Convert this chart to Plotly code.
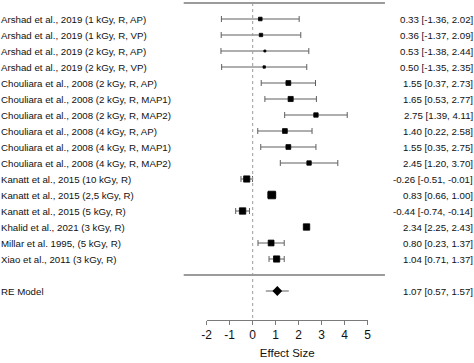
import plotly.graph_objects as go

# ---------------- data ----------------
studies = [
    "Arshad et al., 2019 (1 kGy, R, AP)",
    "Arshad et al., 2019 (1 kGy, R, VP)",
    "Arshad et al., 2019 (2 kGy, R, AP)",
    "Arshad et al., 2019 (2 kGy, R, VP)",
    "Chouliara et al., 2008 (2 kGy, R, AP)",
    "Chouliara et al., 2008 (2 kGy, R, MAP1)",
    "Chouliara et al., 2008 (2 kGy, R, MAP2)",
    "Chouliara et al., 2008 (4 kGy, R, AP)",
    "Chouliara et al., 2008 (4 kGy, R, MAP1)",
    "Chouliara et al., 2008 (4 kGy, R, MAP2)",
    "Kanatt et al., 2015 (10 kGy, R)",
    "Kanatt et al., 2015 (2,5 kGy, R)",
    "Kanatt et al., 2015 (5 kGy, R)",
    "Khalid et al., 2021 (3 kGy, R)",
    "Millar et al. 1995, (5 kGy, R)",
    "Xiao et al., 2011 (3 kGy, R)",
]
estimates = [0.33, 0.36, 0.53, 0.50, 1.55, 1.65, 2.75, 1.40, 1.55, 2.45,
             -0.26, 0.83, -0.44, 2.34, 0.80, 1.04]
ci_lower = [-1.36, -1.37, -1.38, -1.35, 0.37, 0.53, 1.39, 0.22, 0.35, 1.20,
            -0.51, 0.66, -0.74, 2.25, 0.23, 0.71]
ci_upper = [2.02, 2.09, 2.44, 2.35, 2.73, 2.77, 4.11, 2.58, 2.75, 3.70,
            -0.01, 1.00, -0.14, 2.43, 1.37, 1.37]

re_label = "RE Model"
re_estimate = 1.07
re_lower = 0.57
re_upper = 1.57

axis_ticks = [-2, -1, 0, 1, 2, 3, 4, 5]
axis_title = "Effect Size"

# ---------------- styles / geometry ----------------
square_sizes = [3.6, 3.4, 2, 2.4, 4.8, 5.1, 4.4, 4.8, 4.8, 4.4,
                6.2, 7.6, 6.4, 6.4, 5.8, 6.2]

W, H = 474, 363
zero_px = 252.7
px_per_unit = 23.0
xmin = -zero_px / px_per_unit
xmax = (W - zero_px) / px_per_unit

row_px_first = 259.0     # pixel y of row 1
row_step = 16.0
ymax = 1 + row_px_first / row_step
ymin = 1 - (H - row_px_first) / row_step

n = len(studies)
rows = list(range(n, 0, -1))
re_row = -1
top_row = n + 1
sep_row = 0
axis_row = -2.8
line_x_from, line_x_to = -3.0, 5.75

FONT = "Liberation Sans, Arial, sans-serif"
GREY = "#7a7a7a"
CI_GREY = "#5f5f5f"
TXT = "#111111"
LABEL_SIZE = 9.7

fig = go.Figure()

# horizontal separator lines
fig.add_trace(go.Scatter(
    x=[line_x_from, line_x_to, None, line_x_from, line_x_to],
    y=[top_row, top_row, None, sep_row, sep_row],
    mode="lines", line=dict(color=GREY, width=1.3),
    hoverinfo="skip"))

# reference line at 0 (on the effect-size axis)
fig.add_trace(go.Scatter(
    x=[0, 0], y=[top_row, axis_row], xaxis="x2", yaxis="y",
    mode="lines", line=dict(color="#9a9a9a", width=1, dash="dot"),
    hoverinfo="skip"))

# study CIs (drawn first, beneath the squares)
fig.add_trace(go.Scatter(
    x=estimates, y=rows, mode="markers",
    marker=dict(size=1, color="rgba(0,0,0,0)"),
    error_x=dict(type="data", symmetric=False,
                 array=[u - e for u, e in zip(ci_upper, estimates)],
                 arrayminus=[e - l for e, l in zip(estimates, ci_lower)],
                 color=CI_GREY, thickness=1, width=3),
    cliponaxis=False, hoverinfo="skip"))

# study estimates
fig.add_trace(go.Scatter(
    x=estimates, y=rows, mode="markers",
    marker=dict(symbol="square", size=square_sizes, color="#000000",
                opacity=1, line=dict(width=0.8, color="#000000")),
    cliponaxis=False, hoverinfo="skip"))

# RE model CI and estimate
fig.add_trace(go.Scatter(
    x=[re_estimate], y=[re_row], mode="markers",
    marker=dict(size=1, color="rgba(0,0,0,0)"),
    error_x=dict(type="data", symmetric=False,
                 array=[re_upper - re_estimate],
                 arrayminus=[re_estimate - re_lower],
                 color=CI_GREY, thickness=1, width=0),
    cliponaxis=False, hoverinfo="skip"))
fig.add_trace(go.Scatter(
    x=[re_estimate], y=[re_row], mode="markers",
    marker=dict(symbol="diamond", size=7.5, color="black", line=dict(width=0)),
    cliponaxis=False, hoverinfo="skip"))

# text columns (annotations placed on the row axis)
right_text = [f"{e:.2f} [{l:.2f}, {u:.2f}]" for e, l, u in zip(estimates, ci_lower, ci_upper)]
right_text.append(f"{re_estimate:.2f} [{re_lower:.2f}, {re_upper:.2f}]")
annotations = []
for label, value_txt, r in zip(studies + [re_label], right_text, rows + [re_row]):
    annotations.append(dict(
        text=label, xref="paper", x=0.5 / W, xanchor="left", yref="y", y=r,
        yanchor="middle", showarrow=False, borderpad=0, borderwidth=0,
        font=dict(family=FONT, size=LABEL_SIZE, color=TXT)))
    annotations.append(dict(
        text=value_txt, xref="paper", x=(W - 1.5) / W, xanchor="right", yref="y", y=r,
        yanchor="middle", showarrow=False, borderpad=0, borderwidth=0,
        font=dict(family=FONT, size=LABEL_SIZE, color=TXT)))

span = xmax - xmin
dom2 = [(axis_ticks[0] - xmin) / span, (axis_ticks[-1] - xmin) / span]
pos2 = (axis_row - ymin) / (ymax - ymin)

fig.update_layout(
    width=W, height=H,
    margin=dict(l=0, r=0, t=0, b=0, autoexpand=False),
    paper_bgcolor="white", plot_bgcolor="rgba(0,0,0,0)",
    showlegend=False,
    annotations=annotations,
    xaxis=dict(range=[xmin, xmax], visible=False, domain=[0, 1]),
    xaxis2=dict(range=[axis_ticks[0], axis_ticks[-1]], domain=dom2,
                anchor="free", position=pos2, side="bottom",
                showline=True, linecolor=GREY, linewidth=1,
                ticks="outside", ticklen=4, tickcolor=GREY, tickwidth=1,
                tickvals=axis_ticks, ticktext=[str(t) for t in axis_ticks],
                tickfont=dict(family=FONT, size=12, color=TXT),
                showgrid=False, zeroline=False, automargin=False,
                title=dict(text=axis_title, standoff=7,
                           font=dict(family=FONT, size=11.5, color=TXT))),
    yaxis=dict(range=[ymin, ymax], visible=False, domain=[0, 1]),
)

fig.write_html("out.html",
               config={"displayModeBar": False, "staticPlot": True},
               post_script="document.body.style.margin='0';document.body.style.overflow='hidden';")
